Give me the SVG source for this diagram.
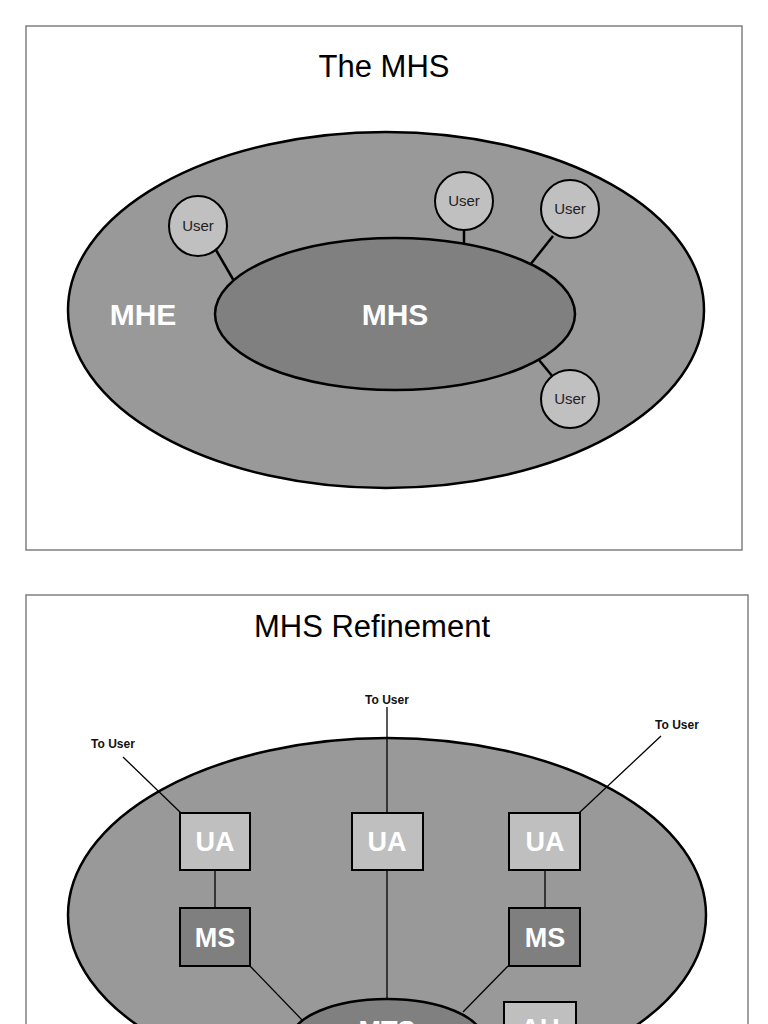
<svg xmlns="http://www.w3.org/2000/svg" width="768" height="1024" viewBox="0 0 768 1024">
<style>
.frame{fill:#fff;stroke:#808080;stroke-width:1.5}
.title{font-family:"Liberation Sans",Arial,sans-serif;font-size:31px;fill:#000;text-anchor:middle}
.outer{fill:#999;stroke:#000;stroke-width:2.5}
.inner{fill:#808080;stroke:#000;stroke-width:2.5}
.user{fill:#c0c0c0;stroke:#000;stroke-width:2}
.utxt{font-family:"Liberation Sans",Arial,sans-serif;font-size:15px;fill:#222;text-anchor:middle}
.big{font-family:"Liberation Sans",Arial,sans-serif;font-size:30px;font-weight:bold;fill:#fff;text-anchor:middle}
.box{font-family:"Liberation Sans",Arial,sans-serif;font-size:27px;font-weight:bold;fill:#fff;text-anchor:middle}
.ua{fill:#bfbfbf;stroke:#000;stroke-width:2}
.ms{fill:#7f7f7f;stroke:#000;stroke-width:2}
.lnk{stroke:#000;stroke-width:2.5;fill:none}
.thin{stroke:#000;stroke-width:1.3;fill:none}
.tu{font-family:"Liberation Sans",Arial,sans-serif;font-size:12px;font-weight:bold;fill:#111;text-anchor:middle}
</style>
<rect width="768" height="1024" fill="#fff"/>
<rect class="frame" x="26" y="26" width="716" height="524"/>
<text class="title" x="384" y="77">The MHS</text>
<g id="mhe"><ellipse class="outer" cx="386" cy="310" rx="318" ry="178"/><text class="big" x="143" y="325">MHE</text></g>
<g id="connectors1">
<line class="lnk" x1="216" y1="250" x2="234" y2="281"/>
<line class="lnk" x1="464" y1="230" x2="464" y2="244"/>
<line class="lnk" x1="553" y1="236" x2="530" y2="265"/>
<line class="lnk" x1="539" y1="360" x2="553" y2="377"/>
</g>
<g id="mhs"><ellipse class="inner" cx="395" cy="314" rx="180" ry="76"/><text class="big" x="395" y="325">MHS</text></g>
<g id="user1"><ellipse class="user" cx="198" cy="226" rx="29" ry="30"/><text class="utxt" x="198" y="231">User</text></g>
<g id="user2"><ellipse class="user" cx="464" cy="201" rx="29" ry="29"/><text class="utxt" x="464" y="206">User</text></g>
<g id="user3"><ellipse class="user" cx="570" cy="209" rx="29" ry="29"/><text class="utxt" x="570" y="214">User</text></g>
<g id="user4"><ellipse class="user" cx="570" cy="399" rx="29" ry="29"/><text class="utxt" x="570" y="404">User</text></g>

<rect class="frame" x="26" y="595" width="722" height="440"/>
<text class="title" x="372" y="637">MHS Refinement</text>
<g id="mhe2"><ellipse class="outer" cx="387" cy="915" rx="319" ry="177"/></g>
<g id="connectors2">
<line class="thin" x1="123" y1="757" x2="181" y2="813"/>
<line class="thin" x1="387" y1="707" x2="387" y2="1000"/>
<line class="thin" x1="661" y1="736" x2="579" y2="813"/>
<line class="thin" x1="215" y1="870" x2="215" y2="908"/>
<line class="thin" x1="545" y1="870" x2="545" y2="908"/>
<line class="thin" x1="250" y1="966" x2="304" y2="1022"/>
<line class="thin" x1="508" y1="966" x2="463" y2="1012"/>
</g>
<text class="tu" x="113" y="748">To User</text>
<text class="tu" x="387" y="704">To User</text>
<text class="tu" x="677" y="729">To User</text>
<g id="ua1"><rect class="ua" x="180" y="813" width="70" height="57"/><text class="box" x="215" y="851">UA</text></g>
<g id="ua2"><rect class="ua" x="352" y="813" width="71" height="57"/><text class="box" x="387" y="851">UA</text></g>
<g id="ua3"><rect class="ua" x="509" y="813" width="71" height="57"/><text class="box" x="545" y="851">UA</text></g>
<g id="ms1"><rect class="ms" x="180" y="908" width="70" height="58"/><text class="box" x="215" y="947">MS</text></g>
<g id="ms2"><rect class="ms" x="509" y="908" width="71" height="58"/><text class="box" x="545" y="947">MS</text></g>
<g id="mts"><ellipse class="inner" cx="387" cy="1040" rx="96" ry="41"/><text class="box" x="387" y="1040">MTS</text></g>
<g id="au"><rect class="ua" x="504" y="1002" width="72" height="57"/><text class="box" x="540" y="1038">AU</text></g>
</svg>
